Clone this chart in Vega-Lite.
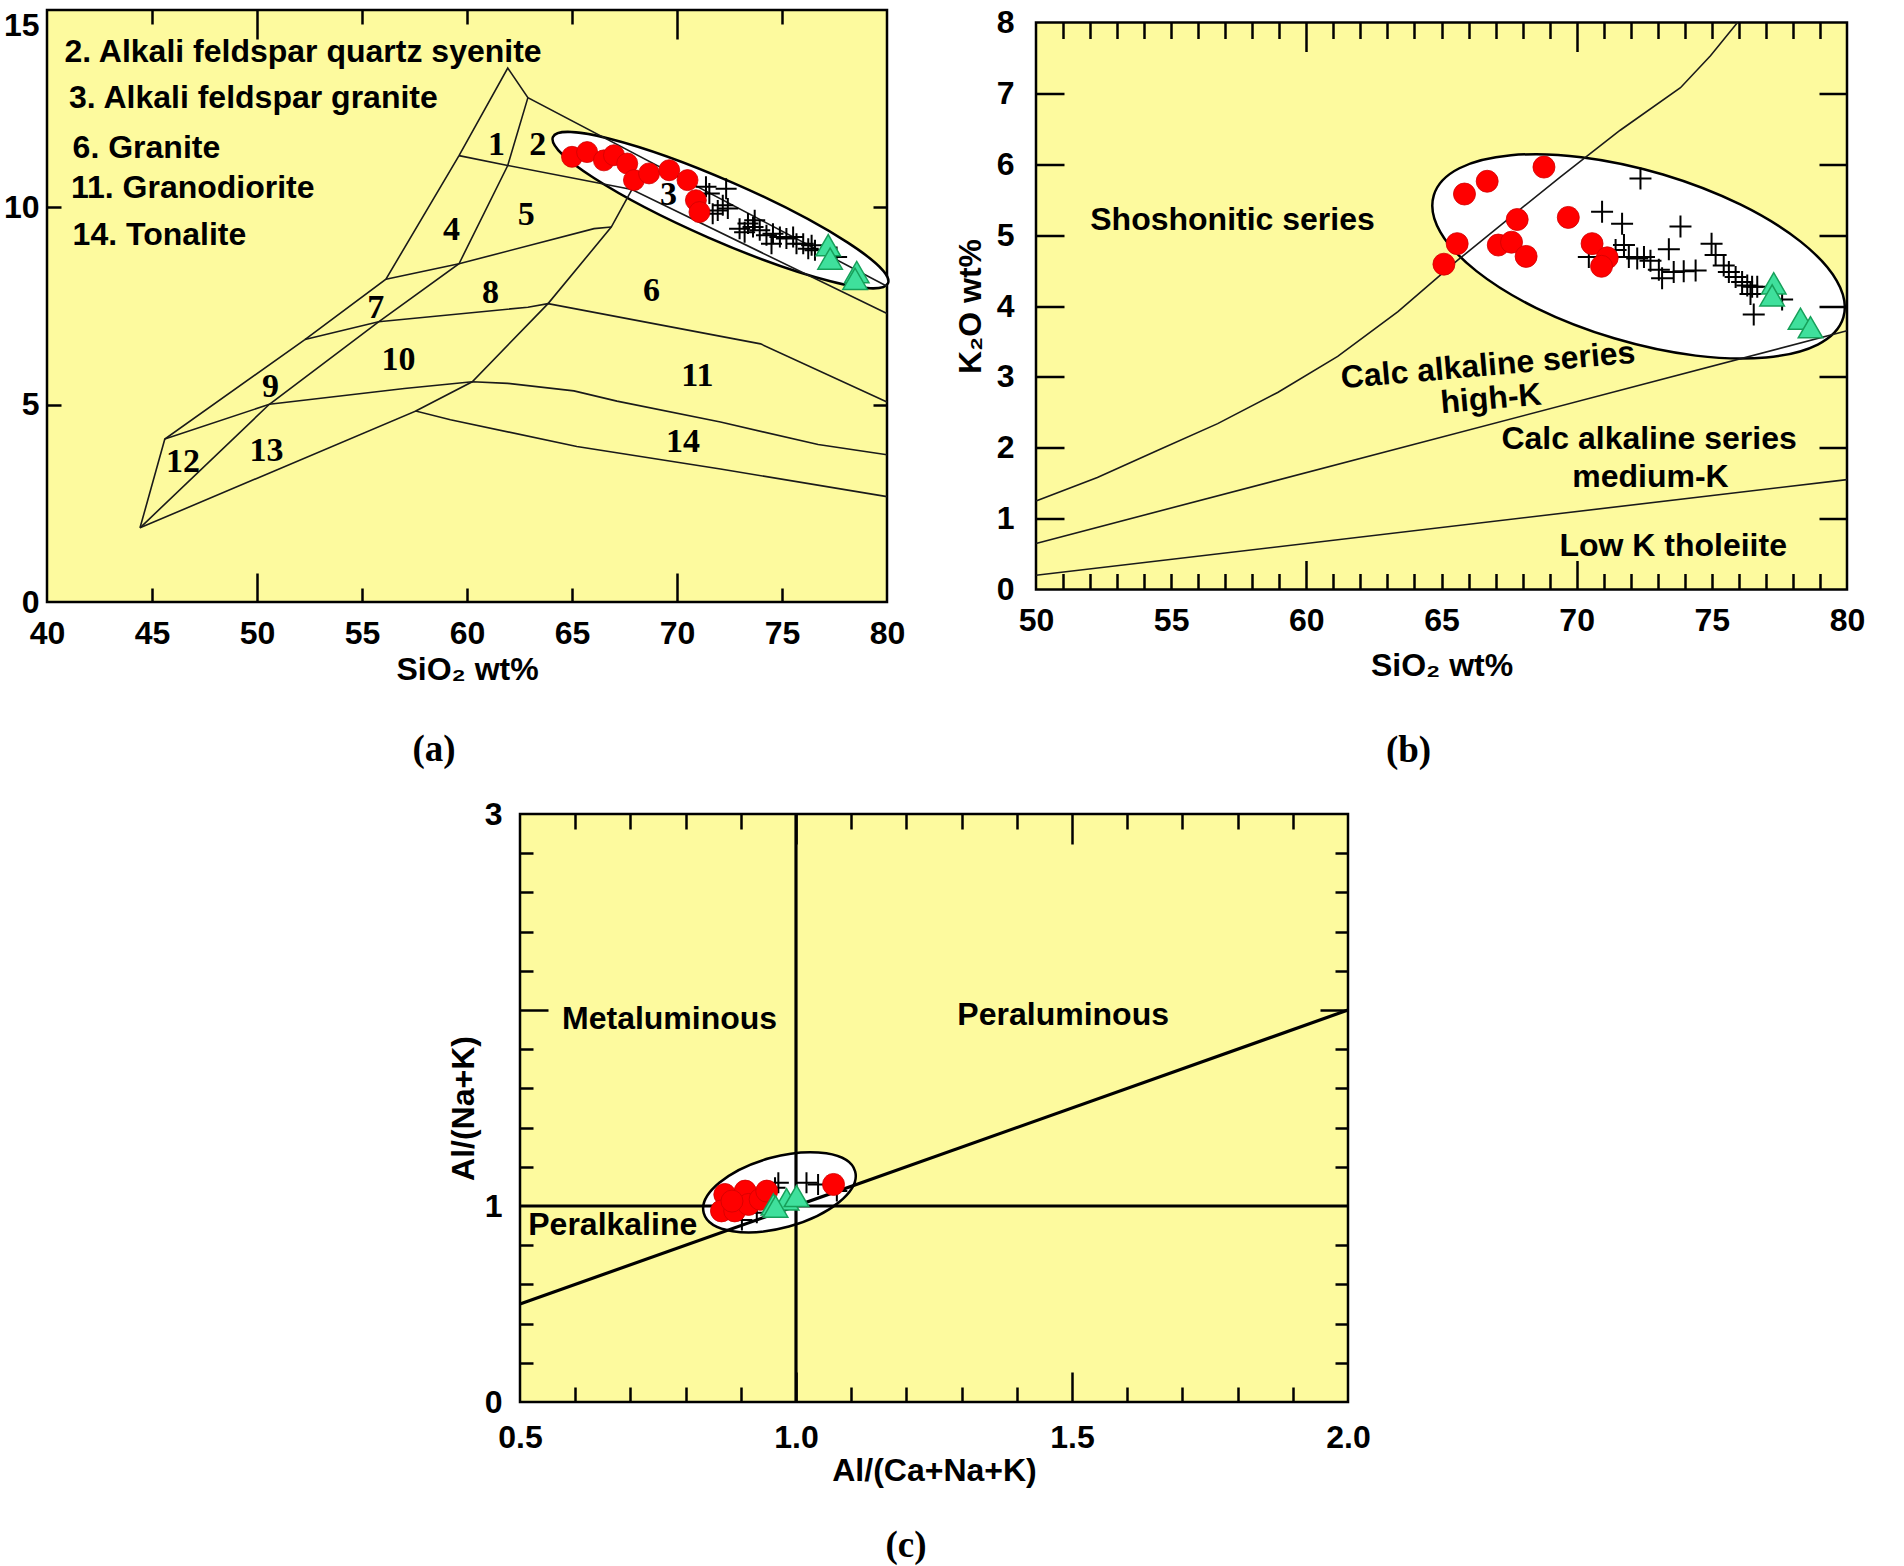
{
  "$schema": "https://vega.github.io/schema/vega-lite/v6.json",
  "background": "white",
  "padding": {"left": 2, "top": 5, "right": 5, "bottom": 5},
  "config": {
    "font": "Liberation Sans",
    "view": {"stroke": "black", "strokeWidth": 2.5, "fill": "#fdfa9e"},
    "axis": {
      "domain": false, "grid": false,
      "labelFont": "Liberation Sans", "labelFontWeight": "bold", "labelFontSize": 32, "labelColor": "black",
      "labelFlush": false, "labelOverlap": false,
      "titleFont": "Liberation Sans", "titleFontWeight": "bold", "titleFontSize": 32, "titleColor": "black",
      "tickColor": "black", "tickWidth": 2.5
    }
  },
  "datasets": {
    "aEllipse": [{"x": 72.07, "y": 9.93}],
    "aLines": [
      {"s": 1, "i": 0, "x": 44.43, "y": 1.88}, {"s": 1, "i": 1, "x": 45.61, "y": 4.13}, {"s": 1, "i": 2, "x": 52.28, "y": 6.65}, {"s": 1, "i": 3, "x": 56.14, "y": 8.18}, {"s": 1, "i": 4, "x": 59.62, "y": 11.31}, {"s": 1, "i": 5, "x": 61.94, "y": 13.53}, {"s": 1, "i": 6, "x": 62.9, "y": 12.78}, {"s": 1, "i": 7, "x": 80, "y": 8.0},
      {"s": 2, "i": 0, "x": 62.9, "y": 12.78}, {"s": 2, "i": 1, "x": 61.94, "y": 11.06}, {"s": 2, "i": 2, "x": 59.62, "y": 8.57}, {"s": 2, "i": 3, "x": 55.79, "y": 7.1}, {"s": 2, "i": 4, "x": 50.59, "y": 5.01}, {"s": 2, "i": 5, "x": 44.43, "y": 1.88},
      {"s": 3, "i": 0, "x": 67.85, "y": 10.45}, {"s": 3, "i": 1, "x": 66.87, "y": 9.5}, {"s": 3, "i": 2, "x": 63.86, "y": 7.56}, {"s": 3, "i": 3, "x": 60.25, "y": 5.58}, {"s": 3, "i": 4, "x": 57.56, "y": 4.84},
      {"s": 4, "i": 0, "x": 59.62, "y": 11.31}, {"s": 4, "i": 1, "x": 61.94, "y": 11.06}, {"s": 4, "i": 2, "x": 67.85, "y": 10.45}, {"s": 4, "i": 3, "x": 80, "y": 7.31},
      {"s": 5, "i": 0, "x": 56.14, "y": 8.18}, {"s": 5, "i": 1, "x": 59.62, "y": 8.57}, {"s": 5, "i": 2, "x": 66.05, "y": 9.46}, {"s": 5, "i": 3, "x": 66.87, "y": 9.5},
      {"s": 6, "i": 0, "x": 52.28, "y": 6.65}, {"s": 6, "i": 1, "x": 55.79, "y": 7.1}, {"s": 6, "i": 2, "x": 62.9, "y": 7.47}, {"s": 6, "i": 3, "x": 63.86, "y": 7.56}, {"s": 6, "i": 4, "x": 73.98, "y": 6.54}, {"s": 6, "i": 5, "x": 80, "y": 5.07},
      {"s": 7, "i": 0, "x": 45.61, "y": 4.13}, {"s": 7, "i": 1, "x": 50.59, "y": 5.01}, {"s": 7, "i": 2, "x": 57.02, "y": 5.41}, {"s": 7, "i": 3, "x": 60.25, "y": 5.58}, {"s": 7, "i": 4, "x": 61.94, "y": 5.54}, {"s": 7, "i": 5, "x": 65.09, "y": 5.35}, {"s": 7, "i": 6, "x": 67.14, "y": 5.09}, {"s": 7, "i": 7, "x": 72.07, "y": 4.56}, {"s": 7, "i": 8, "x": 76.72, "y": 3.99}, {"s": 7, "i": 9, "x": 80, "y": 3.73},
      {"s": 8, "i": 0, "x": 44.43, "y": 1.88}, {"s": 8, "i": 1, "x": 57.56, "y": 4.84}, {"s": 8, "i": 2, "x": 59.21, "y": 4.62}, {"s": 8, "i": 3, "x": 65.23, "y": 3.94}, {"s": 8, "i": 4, "x": 72.07, "y": 3.37}, {"s": 8, "i": 5, "x": 80, "y": 2.67}
    ],
    "aNums": [
      {"t": "1", "x": 61.4, "y": 11.57}, {"t": "2", "x": 63.37, "y": 11.57}, {"t": "3", "x": 69.6, "y": 10.3}, {"t": "4", "x": 59.26, "y": 9.42}, {"t": "5", "x": 62.82, "y": 9.8}, {"t": "6", "x": 68.78, "y": 7.87}, {"t": "7", "x": 55.65, "y": 7.44}, {"t": "8", "x": 61.12, "y": 7.84}, {"t": "9", "x": 50.64, "y": 5.46}, {"t": "10", "x": 56.74, "y": 6.14}, {"t": "11", "x": 70.97, "y": 5.72}, {"t": "12", "x": 46.48, "y": 3.54}, {"t": "13", "x": 50.45, "y": 3.82}, {"t": "14", "x": 70.29, "y": 4.05}
    ],
    "aLegend": [
      {"t": "2. Alkali feldspar quartz syenite", "x": 40.83, "y": 13.94},
      {"t": "3. Alkali feldspar granite", "x": 41.05, "y": 12.76},
      {"t": "6. Granite", "x": 41.22, "y": 11.5},
      {"t": "11. Granodiorite", "x": 41.14, "y": 10.48},
      {"t": "14. Tonalite", "x": 41.22, "y": 9.3}
    ],
    "aCrosses": [
      {"x": 71.38, "y": 10.52}, {"x": 72.34, "y": 10.47}, {"x": 72.18, "y": 10.05}, {"x": 71.94, "y": 9.92}, {"x": 71.7, "y": 9.84}, {"x": 72.42, "y": 9.97}, {"x": 72.98, "y": 9.46}, {"x": 73.38, "y": 9.59}, {"x": 73.62, "y": 9.5}, {"x": 73.94, "y": 9.42}, {"x": 73.22, "y": 9.37}, {"x": 74.5, "y": 9.08}, {"x": 74.9, "y": 9.25}, {"x": 75.21, "y": 9.21}, {"x": 75.53, "y": 9.25}, {"x": 75.69, "y": 9.08}, {"x": 76.01, "y": 9.08}, {"x": 76.25, "y": 8.95}, {"x": 76.41, "y": 9.04}, {"x": 76.57, "y": 8.91}, {"x": 74.26, "y": 9.29}, {"x": 74.57, "y": 9.33}, {"x": 77.6, "y": 8.74}, {"x": 71.54, "y": 10.35}, {"x": 73.7, "y": 9.67}
    ],
    "aCircles": [
      {"x": 65.0, "y": 11.28}, {"x": 65.72, "y": 11.4}, {"x": 66.52, "y": 11.19}, {"x": 67.0, "y": 11.32}, {"x": 67.63, "y": 11.11}, {"x": 67.95, "y": 10.69}, {"x": 68.67, "y": 10.86}, {"x": 69.63, "y": 10.94}, {"x": 70.5, "y": 10.69}, {"x": 70.9, "y": 10.18}, {"x": 71.07, "y": 9.88}
    ],
    "aTriangles": [
      {"x": 77.2, "y": 9.04}, {"x": 77.29, "y": 8.7}, {"x": 78.56, "y": 8.36}, {"x": 78.48, "y": 8.19}
    ],
    "bEllipse": [{"x": 72.29, "y": 4.7}],
    "bLines": [
      {"s": 1, "i": 0, "x": 50, "y": 1.25}, {"s": 1, "i": 1, "x": 52.27, "y": 1.58}, {"s": 1, "i": 2, "x": 54.49, "y": 1.96}, {"s": 1, "i": 3, "x": 56.72, "y": 2.34}, {"s": 1, "i": 4, "x": 58.94, "y": 2.78}, {"s": 1, "i": 5, "x": 61.16, "y": 3.29}, {"s": 1, "i": 6, "x": 63.39, "y": 3.92}, {"s": 1, "i": 7, "x": 65.61, "y": 4.65}, {"s": 1, "i": 8, "x": 67.83, "y": 5.34}, {"s": 1, "i": 9, "x": 69.39, "y": 5.82}, {"s": 1, "i": 10, "x": 71.61, "y": 6.48}, {"s": 1, "i": 11, "x": 73.84, "y": 7.08}, {"s": 1, "i": 12, "x": 74.95, "y": 7.53}, {"s": 1, "i": 13, "x": 75.95, "y": 8.0},
      {"s": 2, "i": 0, "x": 50, "y": 0.65}, {"s": 2, "i": 1, "x": 80, "y": 3.65},
      {"s": 3, "i": 0, "x": 50, "y": 0.2}, {"s": 3, "i": 1, "x": 80, "y": 1.55}
    ],
    "bText": [
      {"t": "Shoshonitic series", "x": 57.27, "y": 5.22},
      {"t": "Calc alkaline series", "x": 72.68, "y": 2.12},
      {"t": "medium-K", "x": 72.73, "y": 1.59},
      {"t": "Low K tholeiite", "x": 73.57, "y": 0.62}
    ],
    "bTextTilted": [
      {"t": "Calc alkaline series", "x": 66.72, "y": 3.16},
      {"t": "high-K", "x": 66.83, "y": 2.69}
    ],
    "bCrosses": [
      {"x": 72.36, "y": 5.8}, {"x": 70.94, "y": 5.33}, {"x": 71.68, "y": 5.16}, {"x": 71.75, "y": 4.86}, {"x": 73.84, "y": 5.12}, {"x": 73.41, "y": 4.8}, {"x": 74.99, "y": 4.88}, {"x": 75.14, "y": 4.72}, {"x": 70.45, "y": 4.69}, {"x": 71.44, "y": 4.79}, {"x": 71.93, "y": 4.69}, {"x": 72.24, "y": 4.67}, {"x": 72.49, "y": 4.69}, {"x": 72.73, "y": 4.64}, {"x": 73.04, "y": 4.51}, {"x": 73.16, "y": 4.39}, {"x": 73.59, "y": 4.48}, {"x": 73.96, "y": 4.49}, {"x": 74.4, "y": 4.5}, {"x": 75.44, "y": 4.57}, {"x": 75.63, "y": 4.48}, {"x": 75.88, "y": 4.41}, {"x": 76.12, "y": 4.34}, {"x": 76.31, "y": 4.29}, {"x": 76.49, "y": 4.27}, {"x": 76.68, "y": 4.27}, {"x": 76.43, "y": 4.17}, {"x": 77.6, "y": 4.09}, {"x": 76.55, "y": 3.88}
    ],
    "bCircles": [
      {"x": 65.09, "y": 4.59}, {"x": 65.58, "y": 4.88}, {"x": 65.85, "y": 5.58}, {"x": 66.69, "y": 5.76}, {"x": 68.79, "y": 5.96}, {"x": 67.8, "y": 5.22}, {"x": 67.1, "y": 4.86}, {"x": 67.59, "y": 4.9}, {"x": 68.13, "y": 4.7}, {"x": 69.69, "y": 5.25}, {"x": 70.57, "y": 4.88}, {"x": 71.13, "y": 4.68}, {"x": 70.92, "y": 4.56}
    ],
    "bTriangles": [
      {"x": 77.29, "y": 4.32}, {"x": 77.23, "y": 4.15}, {"x": 78.28, "y": 3.82}, {"x": 78.65, "y": 3.7}
    ],
    "cEllipse": [{"x": 0.97, "y": 1.07}],
    "cLines": [
      {"s": 1, "i": 0, "x": 1, "y": 0}, {"s": 1, "i": 1, "x": 1, "y": 3},
      {"s": 2, "i": 0, "x": 0.5, "y": 1}, {"s": 2, "i": 1, "x": 2, "y": 1},
      {"s": 3, "i": 0, "x": 0.5, "y": 0.5}, {"s": 3, "i": 1, "x": 2, "y": 2}
    ],
    "cText": [
      {"t": "Metaluminous", "x": 0.771, "y": 1.956},
      {"t": "Peraluminous", "x": 1.484, "y": 1.974},
      {"t": "Peralkaline", "x": 0.668, "y": 0.905}
    ],
    "cCrosses": [
      {"x": 1.019, "y": 1.118}, {"x": 1.04, "y": 1.11}, {"x": 0.968, "y": 1.118}, {"x": 0.962, "y": 1.093}, {"x": 0.929, "y": 0.966}, {"x": 0.902, "y": 0.929}, {"x": 1.074, "y": 1.076}
    ],
    "cCircles": [
      {"x": 0.871, "y": 1.059}, {"x": 0.865, "y": 0.975}, {"x": 0.889, "y": 0.975}, {"x": 0.908, "y": 1.076}, {"x": 0.914, "y": 1.008}, {"x": 0.935, "y": 1.034}, {"x": 0.947, "y": 1.076}, {"x": 0.884, "y": 1.025}, {"x": 1.068, "y": 1.11}
    ],
    "cTriangles": [
      {"x": 0.959, "y": 1.008}, {"x": 0.983, "y": 1.034}, {"x": 1.001, "y": 1.051}, {"x": 0.963, "y": 0.997}
    ]
  },
  "spacing": 26,
  "vconcat": [
    {
      "hconcat": [
        {
          "width": 840, "height": 592,
          "title": {"text": "(a)", "orient": "bottom", "offset": 47, "dx": -33, "anchor": "middle", "frame": "group", "font": "Liberation Serif", "fontSize": 37, "fontWeight": "bold", "color": "black"},
          "resolve": {"axis": {"x": "independent", "y": "independent"}},
          "layer": [
            {
              "data": {"name": "aEllipse"},
              "mark": {"type": "point", "shape": "M-1,0C-1,-0.0906,-0.5523,-0.164,0,-0.164C0.5523,-0.164,1,-0.0906,1,0C1,0.0906,0.5523,0.164,0,0.164C-0.5523,0.164,-1,0.0906,-1,0Z", "size": 133663, "angle": 23.6, "filled": true, "fill": "white", "stroke": "black", "strokeWidth": 2.5, "opacity": 1},
              "encoding": {
                "x": {"field": "x", "type": "quantitative", "scale": {"domain": [40, 80], "nice": false, "zero": false}, "axis": {"orient": "top", "values": [45, 55, 60, 65, 75], "labels": false, "tickSize": -14, "title": null, "zindex": 1}},
                "y": {"field": "y", "type": "quantitative", "scale": {"domain": [0, 15], "nice": false, "zero": false}, "axis": {"orient": "right", "values": [5, 10], "labels": false, "tickSize": -14, "title": null, "zindex": 1}}
              }
            },
            {
              "data": {"name": "aLines"},
              "mark": {"type": "line", "color": "#1a1a1a", "strokeWidth": 1.6},
              "encoding": {
                "x": {"field": "x", "type": "quantitative", "scale": {"domain": [40, 80], "nice": false, "zero": false}, "axis": {"orient": "bottom", "values": [40, 45, 50, 55, 60, 65, 70, 75, 80], "ticks": false, "tickSize": 0, "labelPadding": 16, "title": "SiO₂ wt%", "titlePadding": 5}},
                "y": {"field": "y", "type": "quantitative", "scale": {"domain": [0, 15], "nice": false, "zero": false}, "axis": {"orient": "left", "values": [0, 5, 10, 15], "ticks": false, "tickSize": 0, "labelPadding": 8, "labelBaseline": {"condition": {"test": "datum.value === 15", "value": "top"}, "value": "middle"}, "title": null}},
                "detail": {"field": "s", "type": "nominal"},
                "order": {"field": "i", "type": "quantitative"}
              }
            },
            {
              "data": {"name": "aNums"},
              "mark": {"type": "text", "font": "Liberation Serif", "fontWeight": "bold", "fontSize": 34, "align": "center", "baseline": "middle", "color": "black"},
              "encoding": {
                "x": {"field": "x", "type": "quantitative", "scale": {"domain": [40, 80], "nice": false, "zero": false}, "axis": {"orient": "bottom", "values": [45, 55, 60, 65, 75], "labels": false, "tickSize": -14, "title": null, "zindex": 1}},
                "y": {"field": "y", "type": "quantitative", "scale": {"domain": [0, 15], "nice": false, "zero": false}, "axis": {"orient": "left", "values": [5, 10], "labels": false, "tickSize": -14, "title": null, "zindex": 1}},
                "text": {"field": "t", "type": "nominal"}
              }
            },
            {
              "data": {"name": "aLegend"},
              "mark": {"type": "text", "font": "Liberation Sans", "fontWeight": "bold", "fontSize": 32, "align": "left", "baseline": "middle", "color": "black"},
              "encoding": {
                "x": {"field": "x", "type": "quantitative", "scale": {"domain": [40, 80], "nice": false, "zero": false}, "axis": {"orient": "bottom", "values": [50, 70], "labels": false, "tickSize": -29, "title": null, "zindex": 1}},
                "y": {"field": "y", "type": "quantitative", "scale": {"domain": [0, 15], "nice": false, "zero": false}, "axis": null},
                "text": {"field": "t", "type": "nominal"}
              }
            },
            {
              "data": {"name": "aCrosses"},
              "mark": {"type": "point", "shape": "M-1,0H1M0,-1V1", "size": 441, "filled": false, "stroke": "black", "strokeWidth": 2, "opacity": 1},
              "encoding": {
                "x": {"field": "x", "type": "quantitative", "scale": {"domain": [40, 80], "nice": false, "zero": false}, "axis": {"orient": "top", "values": [50, 70], "labels": false, "tickSize": -29, "title": null, "zindex": 1}},
                "y": {"field": "y", "type": "quantitative", "scale": {"domain": [0, 15], "nice": false, "zero": false}, "axis": null}
              }
            },
            {
              "data": {"name": "aCircles"},
              "mark": {"type": "point", "shape": "circle", "size": 441, "filled": true, "fill": "#ff0000", "stroke": "#d00000", "strokeWidth": 0.8, "opacity": 1},
              "encoding": {
                "x": {"field": "x", "type": "quantitative", "scale": {"domain": [40, 80], "nice": false, "zero": false}, "axis": null},
                "y": {"field": "y", "type": "quantitative", "scale": {"domain": [0, 15], "nice": false, "zero": false}, "axis": null}
              }
            },
            {
              "data": {"name": "aTriangles"},
              "mark": {"type": "point", "shape": "triangle-up", "size": 600, "filled": true, "fill": "#3fe09c", "stroke": "#17a05a", "strokeWidth": 1.5, "opacity": 1},
              "encoding": {
                "x": {"field": "x", "type": "quantitative", "scale": {"domain": [40, 80], "nice": false, "zero": false}, "axis": null},
                "y": {"field": "y", "type": "quantitative", "scale": {"domain": [0, 15], "nice": false, "zero": false}, "axis": null}
              }
            }
          ]
        },
        {
          "width": 811, "height": 567,
          "title": {"text": "(b)", "orient": "bottom", "offset": 51, "dx": -33, "anchor": "middle", "frame": "group", "font": "Liberation Serif", "fontSize": 37, "fontWeight": "bold", "color": "black"},
          "resolve": {"axis": {"x": "independent", "y": "independent"}},
          "layer": [
            {
              "data": {"name": "bEllipse"},
              "mark": {"type": "point", "shape": "M-1,0C-1,-0.2209,-0.5523,-0.4,0,-0.4C0.5523,-0.4,1,-0.2209,1,0C1,0.2209,0.5523,0.4,0,0.4C-0.5523,0.4,-1,0.2209,-1,0Z", "size": 182671, "angle": 16.6, "filled": true, "fill": "white", "stroke": "black", "strokeWidth": 2.5, "opacity": 1},
              "encoding": {
                "x": {"field": "x", "type": "quantitative", "scale": {"domain": [50, 80], "nice": false, "zero": false}, "axis": {"orient": "top", "values": [51, 52, 53, 54, 55, 56, 57, 58, 59, 61, 62, 63, 64, 65, 66, 67, 68, 69, 71, 72, 73, 74, 75, 76, 77, 78, 79], "labels": false, "tickSize": -16, "title": null, "zindex": 1}},
                "y": {"field": "y", "type": "quantitative", "scale": {"domain": [0, 8], "nice": false, "zero": false}, "axis": {"orient": "right", "values": [1, 2, 3, 4, 5, 6, 7], "labels": false, "tickSize": -28, "title": null, "zindex": 1}}
              }
            },
            {
              "data": {"name": "bLines"},
              "mark": {"type": "line", "color": "#1a1a1a", "strokeWidth": 1.6},
              "encoding": {
                "x": {"field": "x", "type": "quantitative", "scale": {"domain": [50, 80], "nice": false, "zero": false}, "axis": {"orient": "bottom", "values": [50, 55, 60, 65, 70, 75, 80], "ticks": false, "tickSize": 0, "labelPadding": 16, "title": "SiO₂ wt%", "titlePadding": 14}},
                "y": {"field": "y", "type": "quantitative", "scale": {"domain": [0, 8], "nice": false, "zero": false}, "axis": {"orient": "left", "values": [0, 1, 2, 3, 4, 5, 6, 7, 8], "ticks": false, "tickSize": 0, "labelPadding": 22, "title": "K₂O wt%", "titlePadding": 9}},
                "detail": {"field": "s", "type": "nominal"},
                "order": {"field": "i", "type": "quantitative"}
              }
            },
            {
              "data": {"name": "bText"},
              "mark": {"type": "text", "font": "Liberation Sans", "fontWeight": "bold", "fontSize": 32, "align": "center", "baseline": "middle", "color": "black"},
              "encoding": {
                "x": {"field": "x", "type": "quantitative", "scale": {"domain": [50, 80], "nice": false, "zero": false}, "axis": {"orient": "bottom", "values": [51, 52, 53, 54, 55, 56, 57, 58, 59, 61, 62, 63, 64, 65, 66, 67, 68, 69, 71, 72, 73, 74, 75, 76, 77, 78, 79], "labels": false, "tickSize": -16, "title": null, "zindex": 1}},
                "y": {"field": "y", "type": "quantitative", "scale": {"domain": [0, 8], "nice": false, "zero": false}, "axis": {"orient": "left", "values": [1, 2, 3, 4, 5, 6, 7], "labels": false, "tickSize": -28, "title": null, "zindex": 1}},
                "text": {"field": "t", "type": "nominal"}
              }
            },
            {
              "data": {"name": "bTextTilted"},
              "mark": {"type": "text", "font": "Liberation Sans", "fontWeight": "bold", "fontSize": 32, "align": "center", "baseline": "middle", "angle": 355, "color": "black"},
              "encoding": {
                "x": {"field": "x", "type": "quantitative", "scale": {"domain": [50, 80], "nice": false, "zero": false}, "axis": {"orient": "bottom", "values": [60, 70], "labels": false, "tickSize": -29, "title": null, "zindex": 1}},
                "y": {"field": "y", "type": "quantitative", "scale": {"domain": [0, 8], "nice": false, "zero": false}, "axis": null},
                "text": {"field": "t", "type": "nominal"}
              }
            },
            {
              "data": {"name": "bCrosses"},
              "mark": {"type": "point", "shape": "M-1,0H1M0,-1V1", "size": 484, "filled": false, "stroke": "black", "strokeWidth": 2, "opacity": 1},
              "encoding": {
                "x": {"field": "x", "type": "quantitative", "scale": {"domain": [50, 80], "nice": false, "zero": false}, "axis": {"orient": "top", "values": [60, 70], "labels": false, "tickSize": -29, "title": null, "zindex": 1}},
                "y": {"field": "y", "type": "quantitative", "scale": {"domain": [0, 8], "nice": false, "zero": false}, "axis": null}
              }
            },
            {
              "data": {"name": "bCircles"},
              "mark": {"type": "point", "shape": "circle", "size": 484, "filled": true, "fill": "#ff0000", "stroke": "#d00000", "strokeWidth": 0.8, "opacity": 1},
              "encoding": {
                "x": {"field": "x", "type": "quantitative", "scale": {"domain": [50, 80], "nice": false, "zero": false}, "axis": null},
                "y": {"field": "y", "type": "quantitative", "scale": {"domain": [0, 8], "nice": false, "zero": false}, "axis": null}
              }
            },
            {
              "data": {"name": "bTriangles"},
              "mark": {"type": "point", "shape": "triangle-up", "size": 600, "filled": true, "fill": "#3fe09c", "stroke": "#17a05a", "strokeWidth": 1.5, "opacity": 1},
              "encoding": {
                "x": {"field": "x", "type": "quantitative", "scale": {"domain": [50, 80], "nice": false, "zero": false}, "axis": null},
                "y": {"field": "y", "type": "quantitative", "scale": {"domain": [0, 8], "nice": false, "zero": false}, "axis": null}
              }
            }
          ]
        }
      ],
      "bounds": "flush",
      "center": true,
      "spacing": 149
    },
    {
      "hconcat": [
        {
          "width": 373, "height": 10,
          "view": {"stroke": "transparent", "fill": "transparent"},
          "data": {"values": []},
          "mark": "point"
        },
        {
          "width": 828, "height": 588,
          "title": {"text": "(c)", "orient": "bottom", "offset": 42, "dx": -28, "anchor": "middle", "frame": "group", "font": "Liberation Serif", "fontSize": 37, "fontWeight": "bold", "color": "black"},
          "resolve": {"axis": {"x": "independent", "y": "independent"}},
          "layer": [
            {
              "data": {"name": "cEllipse"},
              "mark": {"type": "point", "shape": "M-1,0C-1,-0.2497,-0.5523,-0.452,0,-0.452C0.5523,-0.452,1,-0.2497,1,0C1,0.2497,0.5523,0.452,0,0.452C-0.5523,0.452,-1,0.2497,-1,0Z", "size": 24649, "angle": 344.6, "filled": true, "fill": "white", "stroke": "black", "strokeWidth": 2.5, "opacity": 1},
              "encoding": {
                "x": {"field": "x", "type": "quantitative", "scale": {"domain": [0.5, 2], "nice": false, "zero": false}, "axis": {"orient": "top", "values": [0.6, 0.7, 0.8, 0.9, 1.1, 1.2, 1.3, 1.4, 1.6, 1.7, 1.8, 1.9], "labels": false, "tickSize": -15, "title": null, "zindex": 1}},
                "y": {"field": "y", "type": "quantitative", "scale": {"domain": [0, 3], "nice": false, "zero": false}, "axis": {"orient": "right", "values": [0.2, 0.4, 0.6, 0.8, 1.2, 1.4, 1.6, 1.8, 2.2, 2.4, 2.6, 2.8], "labels": false, "tickSize": -13, "title": null, "zindex": 1}}
              }
            },
            {
              "data": {"name": "cLines"},
              "mark": {"type": "line", "color": "black", "strokeWidth": 3.2},
              "encoding": {
                "x": {"field": "x", "type": "quantitative", "scale": {"domain": [0.5, 2], "nice": false, "zero": false}, "axis": {"orient": "bottom", "values": [0.5, 1, 1.5, 2], "format": ".1f", "ticks": false, "tickSize": 0, "labelPadding": 20, "title": "Al/(Ca+Na+K)", "titlePadding": 2}},
                "y": {"field": "y", "type": "quantitative", "scale": {"domain": [0, 3], "nice": false, "zero": false}, "axis": {"orient": "left", "values": [0, 1, 3], "ticks": false, "tickSize": 0, "labelPadding": 18, "title": "Al/(Na+K)", "titlePadding": 4}},
                "detail": {"field": "s", "type": "nominal"},
                "order": {"field": "i", "type": "quantitative"}
              }
            },
            {
              "data": {"name": "cText"},
              "mark": {"type": "text", "font": "Liberation Sans", "fontWeight": "bold", "fontSize": 32, "align": "center", "baseline": "middle", "color": "black"},
              "encoding": {
                "x": {"field": "x", "type": "quantitative", "scale": {"domain": [0.5, 2], "nice": false, "zero": false}, "axis": {"orient": "bottom", "values": [0.6, 0.7, 0.8, 0.9, 1.1, 1.2, 1.3, 1.4, 1.6, 1.7, 1.8, 1.9], "labels": false, "tickSize": -15, "title": null, "zindex": 1}},
                "y": {"field": "y", "type": "quantitative", "scale": {"domain": [0, 3], "nice": false, "zero": false}, "axis": {"orient": "left", "values": [0.2, 0.4, 0.6, 0.8, 1.2, 1.4, 1.6, 1.8, 2.2, 2.4, 2.6, 2.8], "labels": false, "tickSize": -13, "title": null, "zindex": 1}},
                "text": {"field": "t", "type": "nominal"}
              }
            },
            {
              "data": {"name": "cCrosses"},
              "mark": {"type": "point", "shape": "M-1,0H1M0,-1V1", "size": 441, "filled": false, "stroke": "black", "strokeWidth": 2, "opacity": 1},
              "encoding": {
                "x": {"field": "x", "type": "quantitative", "scale": {"domain": [0.5, 2], "nice": false, "zero": false}, "axis": {"orient": "bottom", "values": [1, 1.5], "labels": false, "tickSize": -30, "title": null, "zindex": 1}},
                "y": {"field": "y", "type": "quantitative", "scale": {"domain": [0, 3], "nice": false, "zero": false}, "axis": {"orient": "left", "values": [2], "labels": false, "tickSize": -28, "title": null, "zindex": 1}}
              }
            },
            {
              "data": {"name": "cCircles"},
              "mark": {"type": "point", "shape": "circle", "size": 484, "filled": true, "fill": "#ff0000", "stroke": "#d00000", "strokeWidth": 0.8, "opacity": 1},
              "encoding": {
                "x": {"field": "x", "type": "quantitative", "scale": {"domain": [0.5, 2], "nice": false, "zero": false}, "axis": {"orient": "top", "values": [1, 1.5], "labels": false, "tickSize": -30, "title": null, "zindex": 1}},
                "y": {"field": "y", "type": "quantitative", "scale": {"domain": [0, 3], "nice": false, "zero": false}, "axis": {"orient": "right", "values": [2], "labels": false, "tickSize": -28, "title": null, "zindex": 1}}
              }
            },
            {
              "data": {"name": "cTriangles"},
              "mark": {"type": "point", "shape": "triangle-up", "size": 600, "filled": true, "fill": "#3fe09c", "stroke": "#17a05a", "strokeWidth": 1.5, "opacity": 1},
              "encoding": {
                "x": {"field": "x", "type": "quantitative", "scale": {"domain": [0.5, 2], "nice": false, "zero": false}, "axis": null},
                "y": {"field": "y", "type": "quantitative", "scale": {"domain": [0, 3], "nice": false, "zero": false}, "axis": null}
              }
            }
          ]
        }
      ],
      "bounds": "flush",
      "spacing": 100
    }
  ]
}
